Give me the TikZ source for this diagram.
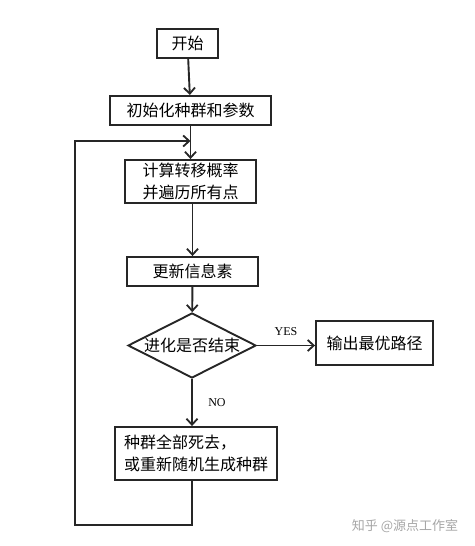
\documentclass[tikz,border=0pt]{standalone}
\usepackage{fontspec}
\setmainfont{Liberation Serif}
\newfontfamily\cjk{Noto Sans CJK SC}
\usetikzlibrary{arrows.meta,shapes.geometric}
\tikzset{>={Straight Barb[length=6pt,width=11pt,line width=1.8pt]}}
\tikzset{
  stepbox/.style={draw=black!85,line width=1.9pt,inner sep=0pt,
    font=\cjk\fontsize{16}{22}\selectfont},
  judgebox/.style={draw=black!85,diamond,aspect=2,line width=1.9pt,inner sep=0pt,
    minimum width=128pt,minimum height=65pt,font=\cjk\fontsize{16}{22}\selectfont},
  flow/.style={->,line width=1.9pt,color=black!85},
  answer/.style={font=\fontsize{12}{14}\selectfont}
}

\begin{document}
\begin{tikzpicture}[x=1pt,y=-1pt]
\useasboundingbox (0,0) rectangle (474,546);
\node[stepbox,minimum width=61pt,minimum height=29pt] (start) at (187.5,43.5) {开始};
\node[stepbox,minimum width=161pt,minimum height=29pt] (init) at (190.5,110.5) {初始化种群和参数};
\node[stepbox,minimum width=131pt,minimum height=43pt,align=center] (calc) at (190.5,181.5) {计算转移概率\\并遍历所有点};
\node[stepbox,minimum width=131pt,minimum height=29pt] (update) at (192.5,271.5) {更新信息素};
\node[judgebox] (judge) at (192,345.5) {进化是否结束};
\node[stepbox,minimum width=117pt,minimum height=44pt] (best) at (374.5,343) {输出最优路径};
\node[stepbox,minimum width=162pt,minimum height=53pt,align=left,text width=144pt] (regen) at (196,453.5) {种群全部死去，\\或重新随机生成种群};
\coordinate (join) at (190.5,141);
\coordinate (back) at (75,525);
% main flow
\draw[flow] (start) -- (init);
\draw[flow] (init) -- (calc);
\draw[flow] (calc.south -| update) -- (update);
\draw[flow] (update) -- (judge);
\draw[flow] (judge.east) -- node[answer,above=6pt,black] {YES} (best.west |- judge.east);
\draw[flow] (judge.south) -- node[answer,right=12pt,black] {NO} (regen.north -| judge.south);
% loop back
\draw[flow] (regen.south -| judge.south) |- (back) |- (join);
\node[font=\cjk\fontsize{13}{15}\selectfont,text=black!35] (mark) at (405,526) {知乎 @源点工作室};
\end{tikzpicture}
\end{document}
